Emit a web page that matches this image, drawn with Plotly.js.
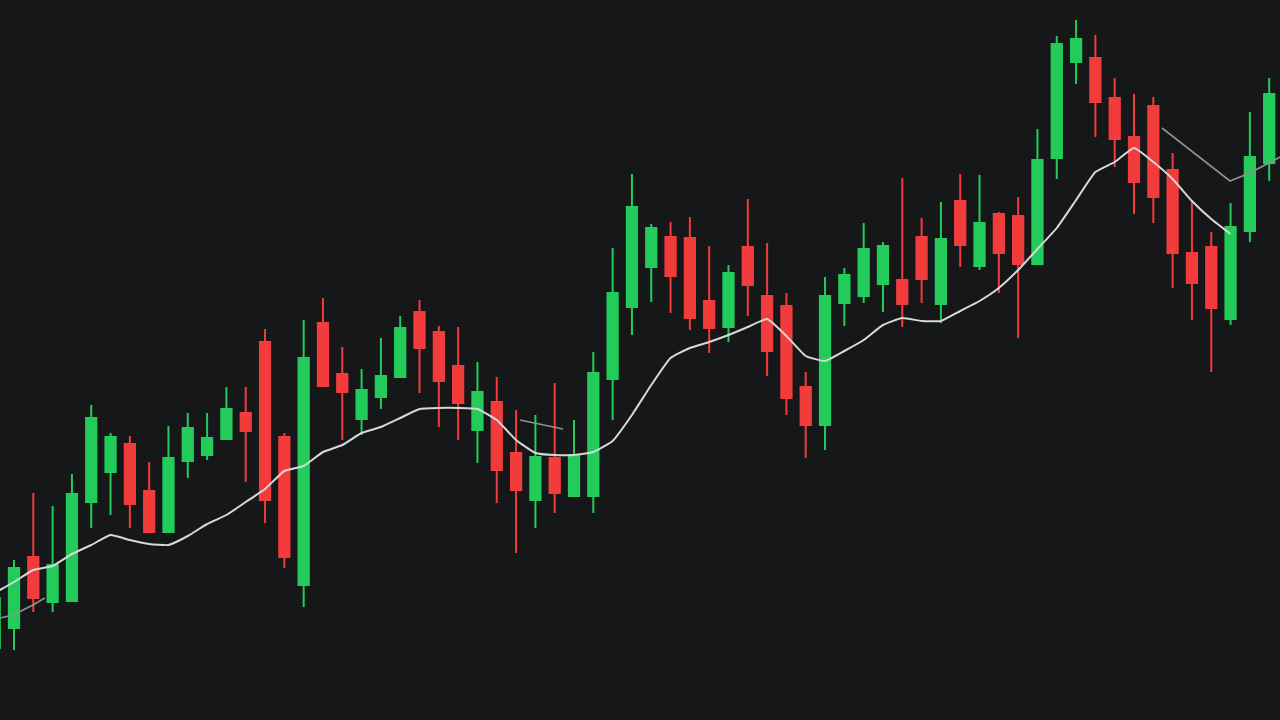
<!DOCTYPE html>
<html>
<head>
<meta charset="utf-8">
<script src="https://cdn.plot.ly/plotly-3.0.1.min.js"></script>
<style>
  html, body { margin: 0; padding: 0; background: #151719; }
  #chart { width: 1280px; height: 720px; }
</style>
</head>
<body>
<div id="chart"></div>
<script>
// Candle index (session number)
const sessions = [-1,0,1,2,3,4,5,6,7,8,9,10,11,12,13,14,15,16,17,18,19,20,21,22,23,24,25,26,27,28,29,30,31,32,33,34,35,36,37,38,39,40,41,42,43,44,45,46,47,48,49,50,51,52,53,54,55,56,57,58,59,60,61,62,63,64,65];

const openVals  = [72,92,163,118,119,218,248,276,229,188,259,265,281,307,378,283,135,397,346,301,323,343,408,388,354,290,318,267,220,262,224,224,341,413,453,483,482,419,393,473,424,414,333,295,417,424,436,440,483,416,519,454,506,504,456,562,658,662,622,583,614,550,467,473,401,489,557];
const highVals  = [132,160,227,214,246,315,287,284,258,294,307,307,333,333,391,287,400,422,373,351,382,404,420,394,393,358,343,310,305,337,300,368,472,546,496,498,503,474,455,521,477,427,348,443,452,497,478,542,502,518,546,545,508,523,591,684,700,685,642,626,623,567,518,488,517,608,642];
const lowVals   = [65,70,108,108,119,192,205,192,188,188,242,260,281,238,197,152,113,334,280,285,311,343,327,293,280,257,217,167,192,207,224,207,300,385,418,407,390,367,378,404,344,305,262,270,394,417,408,393,417,397,453,450,427,382,456,541,636,583,553,506,497,432,400,348,395,478,539];
const closeVals = [122,152,122,155,226,302,283,216,188,262,292,282,311,289,220,163,362,334,328,330,344,392,372,339,317,328,250,230,263,227,265,347,427,513,492,444,402,392,447,435,369,322,295,424,445,471,474,416,441,481,475,497,467,456,560,676,681,618,581,538,523,467,437,412,493,563,626];

// Moving average (main line) read at each session
const maSessions = [-1,0,1,2,3,4,5,6,7,8,9,10,11,12,13,14,15,16,17,18,19,20,21,22,23,24,25,26,27,28,29,30,31,32,33,34,35,36,37,38,39,40,41,42,43,44,45,46,47,48,49,50,51,52,53,54,55,56,57,58,59,60,61,62,63];
const maVals = [127,138,150,154,166,175,185,180,176,175,184,196,205,218,231,249,254,268,275,287,293,302,311,312,312,311,300,280,267,265,265,268,279,305,335,362,372,378,385,393,401,384,364,359,369,380,395,402,399,399,409,419,432,450,471,492,520,548,558,572,558,541,519,501,486];

// Faint secondary average, visible only in fragments
const ghostSessions = [-0.73,-0.05,0.98,1.6,null,26.2,28.43,null,59.45,62.97,64.0,65.56];
const ghostVals     = [102,105,115,122,null,300,291,null,592,539,547,563];

const GREEN = '#23cc5a';
const RED = '#f23b3b';
const BG = '#151719';

const traces = [
  {
    type: 'candlestick',
    x: sessions,
    open: openVals,
    high: highVals,
    low: lowVals,
    close: closeVals,
    increasing: { line: { color: GREEN, width: 2 }, fillcolor: GREEN },
    decreasing: { line: { color: RED, width: 2 }, fillcolor: RED },
    whiskerwidth: 0,
    hoverinfo: 'skip',
    showlegend: false
  },
  {
    type: 'scatter',
    mode: 'lines',
    x: ghostSessions,
    y: ghostVals,
    connectgaps: false,
    line: { color: '#8f9193', width: 1.6 },
    hoverinfo: 'skip',
    showlegend: false
  },
  {
    type: 'scatter',
    mode: 'lines',
    x: maSessions,
    y: maVals,
    line: { color: '#d8d8d8', width: 2, shape: 'spline', smoothing: 0.4 },
    hoverinfo: 'skip',
    showlegend: false
  }
];

const layout = {
  width: 1280,
  height: 720,
  margin: { l: 0, r: 0, t: 0, b: 0, pad: 0 },
  paper_bgcolor: BG,
  plot_bgcolor: BG,
  boxgap: 0.24,
  showlegend: false,
  xaxis: {
    range: [-0.725, 65.56],
    visible: false,
    showgrid: false,
    zeroline: false,
    rangeslider: { visible: false },
    fixedrange: true
  },
  yaxis: {
    range: [0, 720],
    visible: false,
    showgrid: false,
    zeroline: false,
    fixedrange: true
  }
};

Plotly.newPlot('chart', traces, layout, { displayModeBar: false, staticPlot: true });
</script>
</body>
</html>
